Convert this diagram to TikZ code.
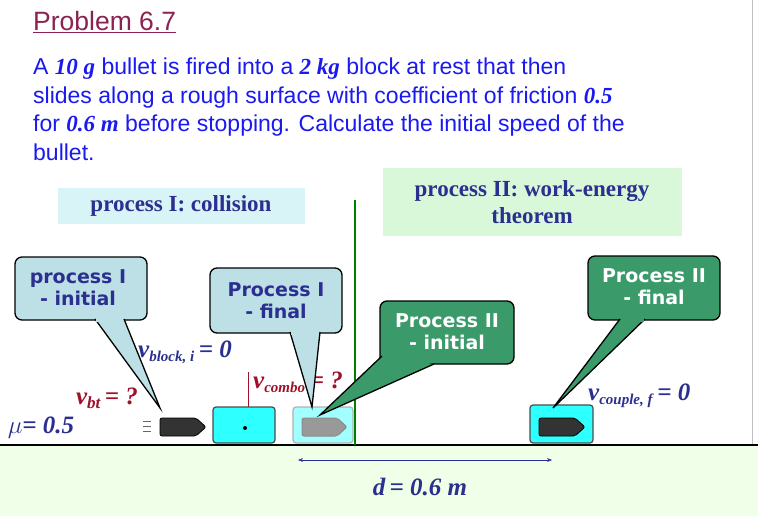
\documentclass[tikz,border=0pt]{standalone}
\usepackage{fontspec}
\setmainfont{Liberation Serif}
\newfontfamily\sans{Liberation Sans}
\newfontfamily\comic{DejaVu Sans}
\usetikzlibrary{arrows.meta}
\definecolor{navy}{HTML}{2B2F8F}
\definecolor{dred}{HTML}{A0102A}
\definecolor{pblue}{HTML}{1A1AF0}
\definecolor{maroon}{HTML}{8B2252}
\definecolor{callb}{HTML}{BDE0E6}
\definecolor{callg}{HTML}{3A9A6A}
\definecolor{boxb}{HTML}{D8F4F6}
\definecolor{boxg}{HTML}{D9F7D9}
\definecolor{ground}{HTML}{EFFFE8}
\definecolor{cyanb}{HTML}{2EFFFF}
\begin{document}
\begin{tikzpicture}[x=1pt,y=-1pt,
  lab/.style={font=\fontsize{25}{25}\selectfont\bfseries\itshape},
  call/.style={draw=black,line width=1.3pt,rounded corners=7pt},
  ctext/.style={font=\comic\fontsize{19}{22}\selectfont\bfseries,align=center},
  blk/.style={draw=black!70,line width=1.2pt,fill=cyanb,rounded corners=3pt},
  bul/.style={fill=black!80,draw=black,line width=0.8pt}]
\useasboundingbox (0,0) rectangle (758,516);
\fill[white] (0,0) rectangle (758,516);
\draw[black!25] (752,0) -- (752,445);
% ground
\fill[ground] (0,445) rectangle (758,516);
\draw[line width=1.2pt] (0,445) -- (758,445);
% title
\node[anchor=west,text=maroon,font=\sans\fontsize{26.5}{26.5}\selectfont,inner sep=0pt] (title) at (33,22) {\underline{Problem 6.7}};
\node[anchor=north west,text=pblue,font=\sans\fontsize{23}{28.5}\selectfont,align=left,inner sep=0pt] (prob) at (33,58)
{A \textbf{\textit{\rmfamily 10 g}} bullet is fired into a \textbf{\textit{\rmfamily 2 kg}} block at rest that then\\
slides along a rough surface with coefficient of friction \textbf{\textit{\rmfamily 0.5}}\\
for \textbf{\textit{\rmfamily 0.6 m}} before stopping. Calculate the initial speed of the\\
bullet.};
% process boxes
\fill[boxb] (58,188) rectangle (305,224);
\node[text=navy,font=\fontsize{23}{23}\selectfont\bfseries] (p1) at (181,206) {process I: collision};
\fill[boxg] (383,168) rectangle (682,236);
\node[text=navy,font=\fontsize{23}{27}\selectfont\bfseries,align=center] (p2) at (532,202) {process II: work-energy\\theorem};
% lines
\draw[green!50!black,line width=2.5pt] (355,200) -- (355,445);
\draw[dred,line width=1pt] (248,372) -- (248,443);
% objects
\foreach \y in {421,426,431} \draw[black!60,line width=1pt] (143,\y) -- (151,\y);
\draw[bul,rounded corners=2pt] (160,418) -- (196,418) -- (206,427) -- (196,436) -- (160,436) -- cycle;
\draw[blk] (213,407) rectangle (275,443);
\fill (245,428) circle (2);
\draw[draw=black!30,line width=1.2pt,fill=cyanb!45,rounded corners=3pt] (293,407) rectangle (353,443);
\draw[fill=black!40,draw=black!45,line width=1pt,rounded corners=2pt] (302,418) -- (337,418) -- (347,427) -- (337,436) -- (302,436) -- cycle;
\draw[blk] (530,405) rectangle (593,443);
\draw[bul,rounded corners=2pt] (539,418) -- (575,418) -- (585,427) -- (575,436) -- (539,436) -- cycle;
% labels
\node[lab,text=navy] (mu) at (41,428) {$\mu$= 0.5};
\node[lab,text=dred] (vbt) at (107,398) {v\textsubscript{\fontsize{17}{17}\selectfont bt}\,= ?};
\node[lab,text=navy,anchor=west,inner sep=0pt] (vb) at (138,352) {v\textsubscript{\fontsize{15}{15}\selectfont block, i}\,= 0};
\node[lab,text=dred,anchor=west,inner sep=0pt] (vc) at (253,382) {v\textsubscript{\fontsize{15}{15}\selectfont combo}\,= ?};
\node[lab,text=navy,anchor=west,inner sep=0pt] (vcf) at (588,396) {v\textsubscript{\fontsize{15}{15}\selectfont couple, f}\,= 0};
% callouts
\draw[call,fill=callb] (15,257) rectangle (147,320);
\draw[call,fill=callb,rounded corners=0pt] (95,319) -- (160,408) -- (124,319);
\fill[callb] (96,317) rectangle (123,322);
\node[ctext,text=navy] (c1) at (78,288) {process I\\- initial};
\draw[call,fill=callb] (210,268) rectangle (342,333);
\draw[call,fill=callb,rounded corners=0pt] (290,332) -- (312,407) -- (320,332);
\fill[callb] (291,330) rectangle (319,335);
\node[ctext,text=navy] (c2) at (276,301) {Process I\\- final};
\draw[call,fill=callg] (380,301) rectangle (514,364);
\draw[call,fill=callg,rounded corners=0pt] (382,356) -- (320,415) -- (434,364);
\fill[callg] (383,350) -- (383,362) -- (430,362) -- cycle;
\fill[callg] (384,352) rectangle (432,362);
\node[ctext,text=white] (c3) at (447,332) {Process II\\- initial};
\draw[call,fill=callg] (588,256) rectangle (720,320);
\draw[call,fill=callg,rounded corners=0pt] (620,319) -- (553,408) -- (645,319);
\fill[callg] (621,317) rectangle (644,322);
\node[ctext,text=white] (c4) at (654,287) {Process II\\- final};
% distance
\coordinate (d1) at (298,460); \coordinate (d2) at (552,460);
\draw[navy,{Stealth[length=5pt]}-{Stealth[length=5pt]}] (d1) -- (d2);
\node[lab,text=navy] (d) at (420,487) {d\,= 0.6 m};
\end{tikzpicture}
\end{document}
